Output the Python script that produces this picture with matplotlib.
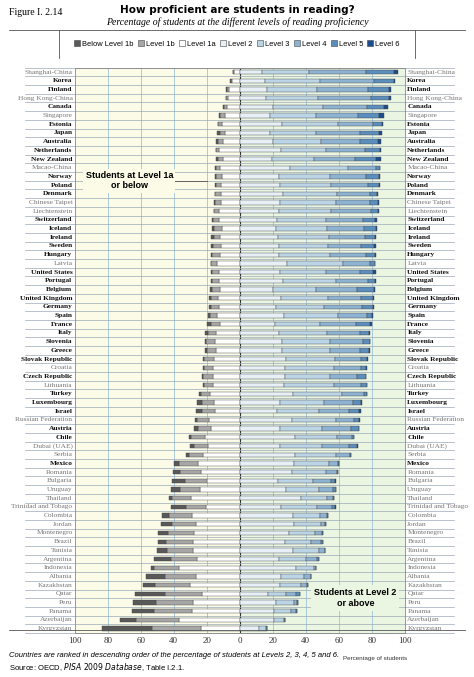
import matplotlib
matplotlib.use("Agg")
import matplotlib.pyplot as plt
import numpy as np

countries = ["Shanghai-China","Korea","Finland","Hong Kong-China","Canada","Singapore","Estonia","Japan","Australia","Netherlands","New Zealand","Macao-China","Norway","Poland","Denmark","Chinese Taipei","Liechtenstein","Switzerland","Iceland","Ireland","Sweden","Hungary","Latvia","United States","Portugal","Belgium","United Kingdom","Germany","Spain","France","Italy","Slovenia","Greece","Slovak Republic","Croatia","Czech Republic","Lithuania","Turkey","Luxembourg","Israel","Russian Federation","Austria","Chile","Dubai (UAE)","Serbia","Mexico","Romania","Bulgaria","Uruguay","Thailand","Trinidad and Tobago","Colombia","Jordan","Montenegro","Brazil","Tunisia","Argentina","Indonesia","Albania","Kazakhstan","Qatar","Peru","Panama","Azerbaijan","Kyrgyzstan"]
oecd = {"Korea","Finland","Canada","Estonia","Japan","Australia","Netherlands","New Zealand","Norway","Poland","Denmark","Switzerland","Iceland","Ireland","Sweden","Hungary","United States","Portugal","Belgium","United Kingdom","Germany","Spain","France","Italy","Slovenia","Greece","Slovak Republic","Czech Republic","Turkey","Luxembourg","Israel","Austria","Chile","Mexico"}
levels = ["Below Level 1b","Level 1b","Level 1a","Level 2","Level 3","Level 4","Level 5","Level 6"]
below1b = [0.1,0.2,0.2,0.2,0.4,0.4,0.3,1.3,1.0,0.1,0.9,0.3,0.5,0.6,0.4,0.7,0.0,0.5,1.4,1.5,1.5,0.7,0.4,0.6,0.6,1.1,1.0,0.8,1.2,2.3,1.4,0.8,1.5,0.8,1.0,0.8,0.9,0.8,3.1,3.9,1.6,1.9,1.0,2.7,2.0,3.2,4.1,8.0,5.5,1.6,9.4,4.1,7.1,6.0,5.0,5.7,10.3,1.7,11.3,7.4,17.8,14.1,13.3,9.6,29.8]
level1b = [0.6,0.9,1.6,1.3,2.0,2.7,2.4,3.4,3.3,1.8,3.2,2.6,3.4,3.1,3.1,3.5,2.8,3.6,4.6,3.9,4.8,4.6,3.7,4.5,4.2,4.7,4.1,5.2,4.7,5.6,5.2,5.2,5.6,5.6,5.0,6.1,5.5,5.7,7.1,7.5,6.8,8.1,8.3,8.6,8.6,11.4,12.7,12.9,12.5,11.7,12.1,13.9,14.1,15.8,16.0,16.0,15.7,14.9,18.7,21.0,22.4,22.0,23.3,26.4,29.7]
level1a = [3.4,4.7,6.3,6.9,7.9,9.3,10.6,8.9,10.0,12.5,10.2,12.0,11.0,11.3,11.7,11.4,12.8,12.7,10.8,11.8,11.2,12.3,13.6,12.6,12.8,12.0,13.4,12.5,13.6,11.8,14.4,15.2,14.3,15.9,16.5,16.2,16.0,18.1,15.9,15.2,19.0,17.5,21.4,19.1,22.2,25.5,23.6,20.1,23.9,29.6,20.5,29.0,26.8,27.8,28.6,28.3,25.8,37.0,26.6,30.5,23.2,28.7,28.9,36.8,23.8]
level2 = [13.3,15.4,16.7,16.1,20.2,18.5,25.6,18.0,20.4,24.7,19.3,30.6,23.6,24.5,26.0,24.6,24.0,22.6,22.2,23.3,23.5,23.8,28.8,24.4,26.4,20.3,24.9,22.2,26.8,21.1,24.0,25.6,25.6,28.1,27.4,27.4,26.5,32.2,24.5,22.5,31.6,24.1,33.2,24.4,33.3,33.0,31.6,23.4,28.0,37.3,24.7,32.3,33.0,29.9,27.6,32.2,24.0,34.0,24.9,24.4,17.2,22.1,20.7,21.0,11.5]
level3 = [28.5,33.1,30.1,31.4,30.0,27.6,33.8,28.0,28.5,27.6,25.8,34.8,30.9,31.0,33.1,33.5,31.1,29.6,30.6,30.6,29.8,31.0,33.5,27.6,31.6,25.8,28.8,28.8,32.6,27.2,28.9,29.2,29.3,29.3,29.7,27.0,30.6,30.0,26.4,25.5,26.8,26.0,25.6,25.6,24.9,21.2,20.8,20.7,19.8,15.8,21.8,16.4,16.0,15.4,15.7,16.0,16.2,11.0,13.9,12.6,10.9,10.5,10.5,5.7,4.2]
level4 = [34.7,32.9,30.6,31.8,26.8,25.7,21.2,27.0,24.1,23.5,24.8,16.9,22.1,22.3,19.9,21.0,24.6,22.5,22.2,21.9,20.3,21.6,16.8,20.6,19.6,24.9,19.8,22.8,17.7,22.4,20.2,20.1,18.2,16.3,16.6,16.8,16.5,13.1,17.9,18.1,11.1,17.4,9.3,16.3,8.4,5.3,6.4,11.0,8.7,3.4,9.6,4.2,2.8,4.4,6.0,3.7,6.6,1.4,4.1,3.6,6.2,2.3,3.1,0.5,0.9]
level5 = [17.0,11.9,12.9,11.2,10.5,12.3,5.4,11.5,10.7,9.1,12.9,2.8,7.6,6.5,4.4,4.8,4.2,7.4,7.3,6.3,7.7,5.6,2.9,8.4,4.6,10.1,7.0,7.0,3.2,8.5,5.4,3.9,5.0,3.6,3.0,5.0,3.3,1.8,4.8,6.4,3.0,4.5,1.3,4.7,0.8,0.4,0.7,2.8,1.6,0.6,1.8,0.5,0.2,0.7,1.1,0.0,1.2,0.0,0.5,0.5,2.1,0.2,0.3,0.0,0.1]
level6 = [2.4,1.0,1.6,1.2,2.3,3.1,0.6,1.9,2.1,0.7,2.9,0.1,0.9,0.7,0.3,0.4,0.4,1.0,1.0,0.7,1.3,0.4,0.2,1.5,0.2,1.1,1.0,0.6,0.2,1.1,0.4,0.3,0.6,0.3,0.2,0.5,0.1,0.0,0.4,1.0,0.2,0.4,0.0,0.7,0.0,0.0,0.0,0.2,0.0,0.0,0.2,0.0,0.0,0.0,0.0,0.0,0.0,0.0,0.0,0.0,0.2,0.0,0.0,0.0,0.0]

colors = ["#595959","#a6a6a6","#ffffff","#e6f0f6","#bcd5e6","#8eb2d1","#5b8dbd","#1d4c8c"]

fig = plt.figure(figsize=(4.74,6.77), dpi=100)
ax = fig.add_axes([0.158,0.065,0.696,0.835])
n = len(countries)
y = np.arange(n)
ax.set_xlim(-100,100)
ax.set_ylim(n-0.5,-0.5)
ax.axvspan(-100,0,color="#fbfbe8",zorder=0)
ax.axvspan(0,100,color="#eaf5e2",zorder=0)
for xv in range(-80,100,20):
    ax.axvline(xv,color="#9ec3d8",lw=0.6,zorder=1)
ax.axvline(0,color="#333333",lw=0.8,zorder=1)
for i in range(n+1):
    ax.plot([-130,130],[i-0.5,i-0.5],color="#9aaab8",lw=0.5,clip_on=False,zorder=1)

neg = [np.array(level1a),np.array(level1b),np.array(below1b)]
negc = [colors[2],colors[1],colors[0]]
left = np.zeros(n)
for v,c in zip(neg,negc):
    ax.barh(y,-v,left=-left,height=0.5,color=c,edgecolor="#444444",linewidth=0.3,zorder=3)
    left += v
pos = [level2,level3,level4,level5,level6]
left = np.zeros(n)
for v,c in zip(pos,colors[3:]):
    v = np.array(v)
    ax.barh(y,v,left=left,height=0.5,color=c,edgecolor="#444444",linewidth=0.3,zorder=3)
    left += v

ax.set_yticks([])
ax.set_xticks(range(-100,101,20))
ax.set_xticklabels([str(abs(v)) for v in range(-100,101,20)],family="Liberation Serif",fontsize=6.5,color="#333333")
ax.tick_params(axis="x",length=0,pad=3)
for s in ax.spines.values():
    s.set_color("#888888"); s.set_linewidth(0.6)
for i,cn in enumerate(countries):
    b = cn in oecd
    kw = dict(fontsize=5.3,family="Liberation Serif",va="center",
              fontweight="bold" if b else "normal",color="#111111" if b else "#777777")
    ax.text(-101.5,i,cn,ha="right",**kw)
    ax.text(101.5,i,cn,ha="left",**kw)

ax.plot([-48,-20],[12.5,12.5],color="#555555",lw=0.6,zorder=4)
ax.text(-67,12.5,"Students at Level 1a\nor below",ha="center",va="center",fontsize=6.5,
        fontweight="bold",family="Liberation Sans",linespacing=1.2,zorder=5,
        bbox=dict(boxstyle="square,pad=0.25",fc="#fbfbe8",ec="none"))
ax.text(70,60.5,"Students at Level 2\nor above",ha="center",va="center",fontsize=6.5,
        fontweight="bold",family="Liberation Sans",linespacing=1.3,zorder=5,
        bbox=dict(boxstyle="square,pad=0.3",fc="#eaf5e2",ec="none"))
ax.text(82,67.2,"Percentage of students",ha="center",va="top",fontsize=4.5,family="Liberation Sans",color="#333333")

fig.text(0.02,0.982,"Figure I. 2.14",fontsize=7,family="Liberation Serif",va="center")
fig.text(0.5,0.985,"How proficient are students in reading?",fontsize=7.5,fontweight="bold",ha="center",va="center",family="DejaVu Sans")
fig.text(0.5,0.967,"Percentage of students at the different levels of reading proficiency",fontsize=7,style="italic",ha="center",va="center",family="Liberation Serif")
fig.add_artist(plt.Line2D([0.02,0.98],[0.955,0.955],color="#555555",lw=0.6))
fig.add_artist(plt.Line2D([0.125,0.125],[0.955,0.915],color="#555555",lw=0.6))
fig.add_artist(plt.Line2D([0.875,0.875],[0.955,0.915],color="#555555",lw=0.6))
fig.add_artist(plt.Line2D([0.02,0.98],[0.07,0.07],color="#555555",lw=0.6))

handles = [plt.Rectangle((0,0),1,1,fc=c,ec="#444444",lw=0.4) for c in colors]
fig.legend(handles,levels,loc="center",bbox_to_anchor=(0.5,0.935),ncol=8,frameon=False,
           handlelength=0.8,handleheight=0.8,handletextpad=0.25,columnspacing=0.6,
           prop={"family":"Liberation Sans","size":5.4})

fig.text(0.02,0.032,"Countries are ranked in descending order of the percentage of students at Levels 2, 3, 4, 5 and 6.",
         fontsize=5.5,style="italic",family="Liberation Sans",va="center")
fig.text(0.02,0.015,"Source: OECD, $\\it{PISA\\ 2009\\ Database}$, Table I.2.1.",fontsize=5.5,family="Liberation Sans",va="center")
fig.savefig("out.png",dpi=100)
